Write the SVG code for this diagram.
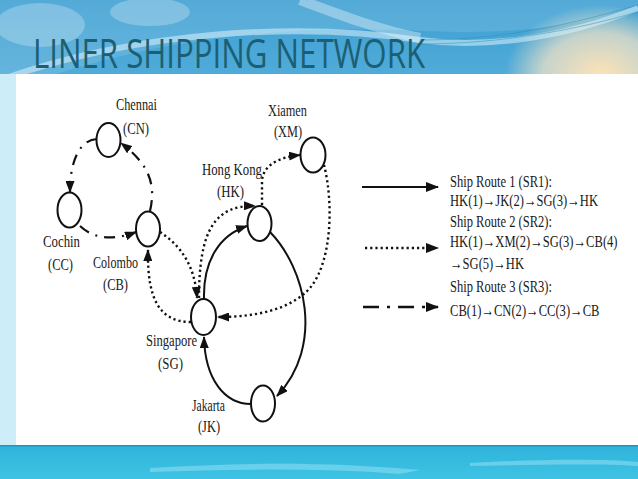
<svg xmlns="http://www.w3.org/2000/svg" width="638" height="479" viewBox="0 0 638 479">
<defs>
<linearGradient id="sky" x1="0" y1="0" x2="0" y2="1">
<stop offset="0" stop-color="#3d9fd2"/>
<stop offset="0.5" stop-color="#79c6e8"/>
<stop offset="1" stop-color="#c6ebf7"/>
</linearGradient>
<radialGradient id="sun" cx="0.5" cy="0.5" r="0.5">
<stop offset="0" stop-color="#fde2b4"/>
<stop offset="0.6" stop-color="#fbe6c6" stop-opacity="0.7"/>
<stop offset="1" stop-color="#fbe6c6" stop-opacity="0"/>
</radialGradient>
<linearGradient id="sea" x1="0" y1="0" x2="0" y2="1">
<stop offset="0" stop-color="#2fb3db"/>
<stop offset="1" stop-color="#3ec3e4"/>
</linearGradient>
<marker id="ah" viewBox="0 0 12 9" refX="11" refY="4.5" markerWidth="12" markerHeight="9" markerUnits="userSpaceOnUse" orient="auto">
<path d="M0,0 L12,4.5 L0,9 z" fill="#111"/>
</marker>
<marker id="ahL" viewBox="0 0 13 10" refX="12" refY="5" markerWidth="13" markerHeight="10" markerUnits="userSpaceOnUse" orient="auto">
<path d="M0,0 L13,5 L0,10 z" fill="#111"/>
</marker>
</defs>
<style>
.n{fill:#fff;stroke:#111;stroke-width:2}
.t{font-family:"Liberation Serif","Times New Roman",serif;font-size:17px;fill:#1a1a1a}
.s1{fill:none;stroke:#111;stroke-width:2}
.s2{fill:none;stroke:#111;stroke-width:2.4;stroke-dasharray:2.2 3}
.s3{fill:none;stroke:#111;stroke-width:2.2;stroke-dasharray:11 7 2 7}
</style>
<g id="background">
<rect x="0" y="0" width="638" height="479" fill="url(#sky)"/>
<ellipse cx="600" cy="75" rx="95" ry="70" fill="url(#sun)"/>
<ellipse cx="40" cy="25" rx="45" ry="22" fill="#fff" opacity="0.25"/>
<ellipse cx="150" cy="12" rx="40" ry="14" fill="#fff" opacity="0.25"/>
<path d="M0,95 C120,45 260,25 400,30 C460,32 520,38 638,10 L638,0 L0,0 Z" fill="#fff" opacity="0.12"/>
<path d="M0,80 C140,30 300,22 420,40 C480,48 560,40 638,8" fill="none" stroke="#e8f8fd" stroke-width="6" opacity="0.5"/>
<path d="M300,0 C340,15 380,30 420,38" fill="none" stroke="#ffffff" stroke-width="10" opacity="0.35"/>
<path d="M420,40 C500,40 570,25 638,5" fill="none" stroke="#2d8fb0" stroke-width="0.8" opacity="0.6"/>
<path d="M420,44 C500,44 575,30 638,12" fill="none" stroke="#2d8fb0" stroke-width="0.8" opacity="0.6"/>
<rect x="0" y="74" width="16" height="371" fill="#cdeef8"/>
<rect x="16" y="74" width="622" height="371" fill="#ffffff"/>
<rect x="0" y="445" width="638" height="34" fill="url(#sea)"/>
<rect x="0" y="445" width="638" height="1.5" fill="#1d97c0"/>
<path d="M150,468 C250,462 330,462 420,470 L400,474 C320,468 240,469 150,472 Z" fill="#8adcf1" opacity="0.6"/>
<path d="M470,463 C520,460 600,458 638,462 L638,466 C600,463 520,465 470,466 Z" fill="#8adcf1" opacity="0.6"/>
</g>
<text x="33" y="68" textLength="392" lengthAdjust="spacingAndGlyphs" font-family="'Open Sans','Noto Sans',sans-serif" font-size="40" fill="#1c5f73">LINER SHIPPING NETWORK</text>
<g id="connectors">
<path class="s1" d="M270,232 C305,268 325,345 277,396" marker-end="url(#ah)"/>
<path class="s1" d="M251,404 C225,404 205,380 204,337" marker-end="url(#ah)"/>
<path class="s1" d="M204,299 C203,260 220,235 247,226" marker-end="url(#ah)"/>
<path class="s2" d="M262,205 L262,182 C262,165 280,157 300,155" marker-end="url(#ah)"/>
<path class="s2" d="M324,165 C333,200 333,260 310,288 C290,310 255,317 218,317" marker-end="url(#ah)"/>
<path class="s2" d="M191,322 C160,322 147,300 148,250" marker-end="url(#ah)"/>
<path class="s2" d="M160,232 C180,245 195,265 197,298" marker-end="url(#ah)"/>
<path class="s2" d="M199,298 C199,230 215,205 255,206" marker-end="url(#ah)"/>
<path class="s3" d="M150,211 C156,185 150,165 121,143" marker-end="url(#ah)"/>
<path class="s3" d="M97,139 C80,140 70,160 70,192" marker-end="url(#ah)"/>
<path class="s3" d="M80,226 C95,240 115,240 136,232" marker-end="url(#ah)"/>
</g>
<g id="CN"><ellipse class="n" cx="108.5" cy="140" rx="12" ry="17"/>
<text class="t" x="116" y="110" textLength="41" lengthAdjust="spacingAndGlyphs">Chennai</text>
<text class="t" x="123" y="134" textLength="26" lengthAdjust="spacingAndGlyphs">(CN)</text></g>
<g id="CC"><ellipse class="n" cx="69.5" cy="210" rx="12" ry="17.5"/>
<text class="t" x="43" y="247" textLength="37" lengthAdjust="spacingAndGlyphs">Cochin</text>
<text class="t" x="48" y="270" textLength="25" lengthAdjust="spacingAndGlyphs">(CC)</text></g>
<g id="CB"><ellipse class="n" cx="148" cy="229" rx="12" ry="17.5"/>
<text class="t" x="93" y="268" textLength="45" lengthAdjust="spacingAndGlyphs">Colombo</text>
<text class="t" x="103" y="290" textLength="25" lengthAdjust="spacingAndGlyphs">(CB)</text></g>
<g id="HK"><ellipse class="n" cx="259.5" cy="223.5" rx="12" ry="17.5"/>
<text class="t" x="202" y="175" textLength="60" lengthAdjust="spacingAndGlyphs">Hong Kong</text>
<text class="t" x="217" y="197" textLength="27" lengthAdjust="spacingAndGlyphs">(HK)</text></g>
<g id="XM"><ellipse class="n" cx="313" cy="155" rx="12.5" ry="17.5"/>
<text class="t" x="268" y="116" textLength="39" lengthAdjust="spacingAndGlyphs">Xiamen</text>
<text class="t" x="274" y="137" textLength="28" lengthAdjust="spacingAndGlyphs">(XM)</text></g>
<g id="SG"><ellipse class="n" cx="203.5" cy="317" rx="12.5" ry="18"/>
<text class="t" x="146" y="346" textLength="51" lengthAdjust="spacingAndGlyphs">Singapore</text>
<text class="t" x="158" y="369" textLength="25" lengthAdjust="spacingAndGlyphs">(SG)</text></g>
<g id="JK"><ellipse class="n" cx="263" cy="403.5" rx="12" ry="18"/>
<text class="t" x="192" y="411" textLength="33" lengthAdjust="spacingAndGlyphs">Jakarta</text>
<text class="t" x="198" y="432" textLength="22" lengthAdjust="spacingAndGlyphs">(JK)</text></g>
<g id="legend">
<path class="s1" d="M362,187 L438,187" stroke-width="2.6" marker-end="url(#ahL)"/>
<path class="s2" d="M365,248 L438,248" marker-end="url(#ahL)"/>
<path d="M363,307 L438,307" fill="none" stroke="#111" stroke-width="2.6" stroke-dasharray="16 8 3 8" marker-end="url(#ahL)"/>
<text class="t" x="450" y="187" textLength="102" lengthAdjust="spacingAndGlyphs">Ship Route 1 (SR1):</text>
<text class="t" transform="matrix(0.74 0 0 1 450 206)">HK(1)→JK(2)→SG(3)→HK</text>
<text class="t" x="450" y="227" textLength="102" lengthAdjust="spacingAndGlyphs">Ship Route 2 (SR2):</text>
<text class="t" transform="matrix(0.74 0 0 1 450 247)">HK(1)→XM(2)→SG(3)→CB(4)</text>
<text class="t" transform="matrix(0.74 0 0 1 450 269)">→SG(5)→HK</text>
<text class="t" x="450" y="292" textLength="102" lengthAdjust="spacingAndGlyphs">Ship Route 3 (SR3):</text>
<text class="t" transform="matrix(0.74 0 0 1 450 316)">CB(1)→CN(2)→CC(3)→CB</text>
</g>
</svg>
